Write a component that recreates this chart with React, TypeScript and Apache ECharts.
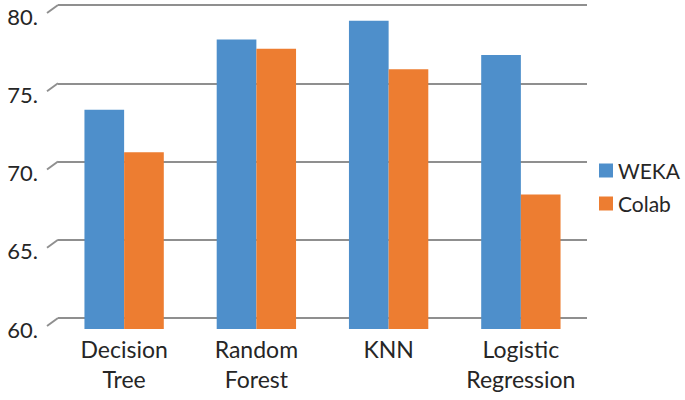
import React, { useEffect, useRef } from 'react';
import * as echarts from 'echarts';

const categories = ['Decision\nTree', 'Random\nForest', 'KNN', 'Logistic\nRegression'];
const seriesNames = ['WEKA', 'Colab'];
const wekaValues = [73.3, 77.8, 79.0, 76.8];
const colabValues = [70.6, 77.2, 75.9, 67.9];
const yTicks = [60, 65, 70, 75, 80];

const FONT = 'Lato, "Open Sans", sans-serif';
const GRID_LEFT = 58;
const GRID_RIGHT = 98;

export default function App() {
  const ref = useRef<HTMLDivElement>(null);

  useEffect(() => {
    if (!ref.current) return;
    const chart = echarts.init(ref.current, undefined, { renderer: 'svg' });
    const option: any = {
      animation: false,
      backgroundColor: '#ffffff',
      textStyle: { fontFamily: FONT },
      legend: {
        data: seriesNames,
        orient: 'vertical',
        left: 594,
        top: 155,
        itemWidth: 14,
        itemHeight: 14,
        itemGap: 12,
        icon: 'rect',
        textStyle: { fontSize: 21, fontFamily: FONT, color: '#262626' },
      },
      grid: [
        { left: GRID_LEFT, right: GRID_RIGHT, top: 5, bottom: 82 },
        { left: GRID_LEFT, right: GRID_RIGHT, top: 5, bottom: 71 },
      ],
      xAxis: [
        { gridIndex: 0, type: 'category', data: categories, show: false },
        {
          gridIndex: 1,
          type: 'category',
          data: categories,
          axisLine: { show: false },
          axisTick: { show: false },
          axisLabel: {
            fontSize: 23,
            fontFamily: FONT,
            color: '#262626',
            lineHeight: 30,
            margin: 5,
            interval: 0,
          },
        },
      ],
      yAxis: [
        {
          gridIndex: 0,
          type: 'value',
          min: yTicks[0],
          max: yTicks[yTicks.length - 1],
          interval: 5,
          axisLine: { show: false },
          axisTick: { show: false },
          splitLine: { show: true, lineStyle: { color: '#8f8f8f', width: 2 } },
          axisLabel: {
            fontSize: 22,
            fontFamily: FONT,
            color: '#262626',
            margin: 20,
            verticalAlign: 'top',
            lineHeight: 22,
            formatter: (v: number) => `${v}.`,
          },
        },
        { gridIndex: 1, type: 'value', min: 59.3, max: 80, show: false, splitLine: { show: false } },
      ],
      series: [
        {
          name: seriesNames[0],
          type: 'bar',
          xAxisIndex: 1,
          yAxisIndex: 1,
          data: wekaValues,
          barGap: '0%',
          barCategoryGap: '40%',
          itemStyle: { color: '#4e8fcb' },
        },
        {
          name: seriesNames[1],
          type: 'bar',
          xAxisIndex: 1,
          yAxisIndex: 1,
          data: colabValues,
          barGap: '0%',
          barCategoryGap: '40%',
          itemStyle: { color: '#ed7d31' },
        },
      ],
    };
    chart.setOption(option);

    const stubs = yTicks.map((v) => {
      const y = chart.convertToPixel({ yAxisIndex: 0 } as any, v) as number;
      return {
        type: 'line',
        silent: true,
        shape: { x1: GRID_LEFT - 11, y1: y + 8, x2: GRID_LEFT, y2: y },
        style: { stroke: '#8f8f8f', lineWidth: 2 },
      };
    });
    chart.setOption({ graphic: stubs });

    return () => chart.dispose();
  }, []);

  return (
    <div
      ref={ref}
      style={{ position: 'fixed', left: 0, top: 0, width: 685, height: 400, background: '#fff' }}
    />
  );
}
